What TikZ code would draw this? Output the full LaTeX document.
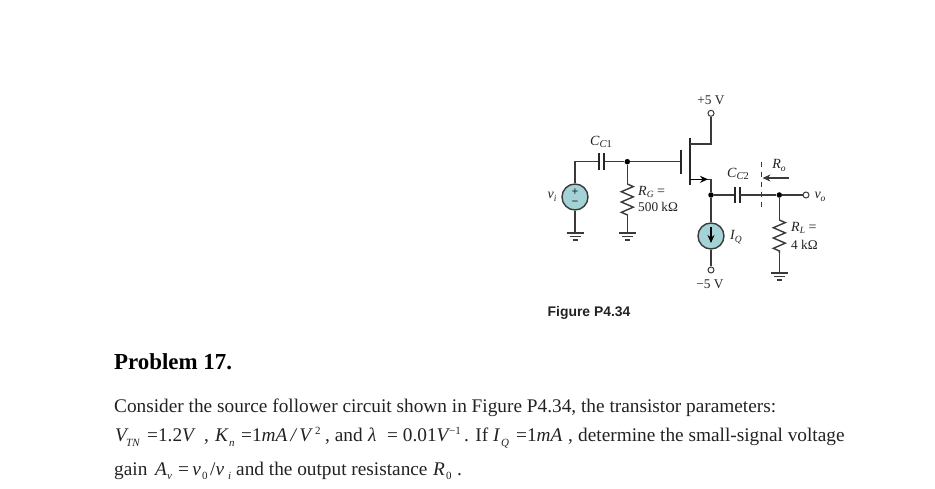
\documentclass[tikz,border=0pt]{standalone}
\usepackage{fontspec}
\setmainfont{Liberation Serif}
\newfontfamily\figsans{Liberation Sans}
\usetikzlibrary{arrows.meta,decorations.pathmorphing}
\definecolor{wirec}{HTML}{3A3A3A}
\definecolor{srcfill}{HTML}{A3D3D6}
\definecolor{inkc}{HTML}{222222}
\tikzset{
 wire/.style={draw=wirec,line width=1.2pt},
 plate/.style={draw=black!85,line width=1.5pt},
 res/.style={wire,line width=1.4pt,decorate,decoration={zigzag,segment length=10.3pt,amplitude=6pt}},
 src/.style={circle,draw=wirec,line width=1.4pt,fill=srcfill,minimum size=26pt,inner sep=0pt},
 dotn/.style={circle,fill=black,minimum size=5.5pt,inner sep=0pt},
 term/.style={circle,draw=wirec,line width=1pt,fill=white,minimum size=6pt,inner sep=0pt},
 lbl/.style={inner sep=0pt,text=inkc,font=\fontsize{13.3}{14}\selectfont},
 txt/.style={anchor=base west,inner sep=0pt,text=inkc,font=\fontsize{19.3}{21}\selectfont},
 subt/.style={anchor=base west,inner sep=0pt,text=inkc,font=\fontsize{11}{12}\selectfont},
 gnd/.pic={
  \draw[wire,line width=1.3pt] (-8.5,0) -- (8.5,0);
  \draw[wire,line width=1.2pt] (-5.5,3.5) -- (5.5,3.5);
  \draw[wire,line width=1.2pt] (-2.5,7) -- (2.5,7);
 }
}
\begin{document}
\begin{tikzpicture}[x=1pt,y=-1pt]
\useasboundingbox (0,0) rectangle (935,489);
% anchor points
\node[src] (vi) at (575,197) {};
\node[src] (iq) at (711,236) {};
\node[dotn] (jg) at (627.3,161.7) {};
\node[dotn] (js) at (711,195) {};
\node[dotn] (jo) at (779.3,195) {};
\node[term] (vdd) at (711,113.3) {};
\node[term] (vss) at (711,270) {};
\node[term] (vout) at (806,195) {};
\coordinate (corner) at (575,161.7);
\coordinate (c1l) at (599,161.7);
\coordinate (c1r) at (604,161.7);
\coordinate (gate) at (681,161.7);
\coordinate (chd) at (690,144);
\coordinate (chs) at (690,179.3);
\coordinate (dcorner) at (711,144);
\coordinate (scorner) at (711,179.3);
\coordinate (c2l) at (735,195);
\coordinate (c2r) at (740,195);
\coordinate (rgt) at (627.3,184);
\coordinate (rgb) at (627.3,215);
\coordinate (rlt) at (779.3,220);
\coordinate (rlb) at (779.3,253);
\coordinate (g1) at (575,233);
\coordinate (g2) at (627.3,233);
\coordinate (g3) at (779.3,273);
\coordinate (dasht) at (761.7,161.7);
\coordinate (dashb) at (761.7,208);
\coordinate (roa) at (789,178);
\coordinate (rob) at (762.5,178);
% input
\draw[wire] (vi.north) -- (corner) -- (c1l);
\draw[wire] (c1r) -- (jg) -- (gate);
\draw[plate] (599,153.3) -- (599,170);
\draw[plate] (604,153.3) -- (604,170);
\draw[wire] (vi.south) -- (g1);
\pic at (g1) {gnd};
\draw[wire] (jg) -- (rgt);
\draw[res] (rgt) -- (rgb);
\draw[wire] (rgb) -- (g2);
\pic at (g2) {gnd};
% transistor
\draw[plate] (681,150) -- (681,174);
\draw[plate] (690,137.7) -- (690,185);
\draw[wire] (chd) -- (dcorner) -- (vdd);
\draw[wire] (chs) -- (scorner) -- (js);
\draw[-{Stealth[length=8pt,width=7pt]},wire,draw=black] (chs) -- (708,179.3);
% output
\draw[wire] (js) -- (c2l);
\draw[plate] (735,187) -- (735,203);
\draw[plate] (740,187) -- (740,203);
\draw[wire] (c2r) -- (jo) -- (vout);
\draw[wire] (js) -- (iq);
\draw[wire] (iq) -- (vss);
\draw[-{Stealth[length=8pt,width=7pt]},draw=black,line width=1.4pt] (711,227) -- (711,243);
\draw[wire] (jo) -- (rlt);
\draw[res] (rlt) -- (rlb);
\draw[wire] (rlb) -- (g3);
\pic at (g3) {gnd};
\draw[wire,dash pattern=on 5pt off 5pt] (dasht) -- (dashb);
\draw[wire,-{Stealth[length=8pt,width=7pt]}] (roa) -- (rob);
% source marks
\node[lbl,font=\bfseries\fontsize{12}{13}\selectfont] (plus) at (575,192) {+};
\node[lbl,font=\bfseries\fontsize{12}{13}\selectfont] (minus) at (575,203.5) {−};
% labels
\node[lbl] (lvi) at (552,197) {\itshape\fontsize{14}{15}\selectfont v\raisebox{-2.5pt}{\fontsize{9.5}{10}\selectfont i}};
\node[lbl] (lc1) at (601,141.7) {\itshape\fontsize{14}{15}\selectfont C\raisebox{-2.5pt}{\fontsize{10.5}{11}\selectfont C}\raisebox{-2.5pt}{\upshape\fontsize{10.5}{11}\selectfont 1}};
\node[lbl] (lc2) at (738,174) {\itshape\fontsize{14}{15}\selectfont C\raisebox{-2.5pt}{\fontsize{10.5}{11}\selectfont C}\raisebox{-2.5pt}{\upshape\fontsize{10.5}{11}\selectfont 2}};
\node[lbl] (lro) at (779,165.7) {\itshape\fontsize{14}{15}\selectfont R\raisebox{-2.5pt}{\fontsize{9.5}{10}\selectfont o}};
\node[lbl] (lvo) at (820,197) {\itshape\fontsize{14}{15}\selectfont v\raisebox{-2.5pt}{\fontsize{9.5}{10}\selectfont o}};
\node[lbl] (lvdd) at (711,100.5) {+5 V};
\node[lbl] (lvss) at (710,284) {−5 V};
\node[lbl] (liq) at (736,237) {\itshape\fontsize{14}{15}\selectfont I\raisebox{-2.5pt}{\fontsize{9.5}{10}\selectfont Q}};
\node[lbl,anchor=west] (lrg) at (638,192) {\itshape\fontsize{14}{15}\selectfont R\raisebox{-2.5pt}{\fontsize{9.5}{10}\selectfont G}\upshape\ =};
\node[lbl,anchor=west] (lrg2) at (638,207) {500 kΩ};
\node[lbl,anchor=west] (lrl) at (791,228) {\itshape\fontsize{14}{15}\selectfont R\raisebox{-2.5pt}{\fontsize{9.5}{10}\selectfont L}\upshape\ =};
\node[lbl,anchor=west] (lrl2) at (791,245) {4 kΩ};
\node[anchor=base west,inner sep=0pt,text=inkc,font=\figsans\bfseries\fontsize{13.9}{15}\selectfont] (fig) at (547.5,316.5) {Figure P4.34};
% text
\node[anchor=base west,inner sep=0pt,text=black,font=\bfseries\fontsize{22.9}{24}\selectfont] (prob) at (114,369) {Problem 17.};
\node[txt] (l1) at (114,412.5) {Consider the source follower circuit shown in Figure P4.34, the transistor parameters:};
% line 2
\node[txt] at (115,441.5) {\itshape V};
\node[subt] at (126,446) {\itshape TN};
\node[txt] at (147,441.5) {=1.2\itshape V};
\node[txt] at (204,441.5) {,};
\node[txt] at (215,441.5) {\itshape K};
\node[subt] at (229,446) {\itshape n};
\node[txt] at (241,441.5) {=1\itshape mA\,/\,V};
\node[subt] at (315,434) {2};
\node[txt] at (325,441.5) {, and};
\node[txt] at (368,441.5) {\itshape λ};
\node[txt] at (387,441.5) {= 0.01\itshape V};
\node[subt] at (449,434) {−1};
\node[txt] at (464,441.5) {. If};
\node[txt] at (493,441.5) {\itshape I};
\node[subt] at (501,446) {\itshape Q};
\node[txt] at (516,441.5) {=1\itshape mA};
\node[txt] at (568,441.5) {,};
\node[txt] at (578,441.5) {determine the small-signal voltage};
% line 3
\node[txt] at (114,475) {gain};
\node[txt] at (155,475) {\itshape A};
\node[subt] at (167,479.5) {\itshape v};
\node[txt] at (178,475) {=\,\itshape v};
\node[subt] at (202,479.5) {0};
\node[txt] at (210,475) {/\itshape v};
\node[subt] at (228,479.5) {\itshape i};
\node[txt] at (236,475) {and the output resistance};
\node[txt] at (433,475) {\itshape R};
\node[subt] at (446,479.5) {0};
\node[txt] at (457,475) {.};
\end{tikzpicture}
\end{document}
